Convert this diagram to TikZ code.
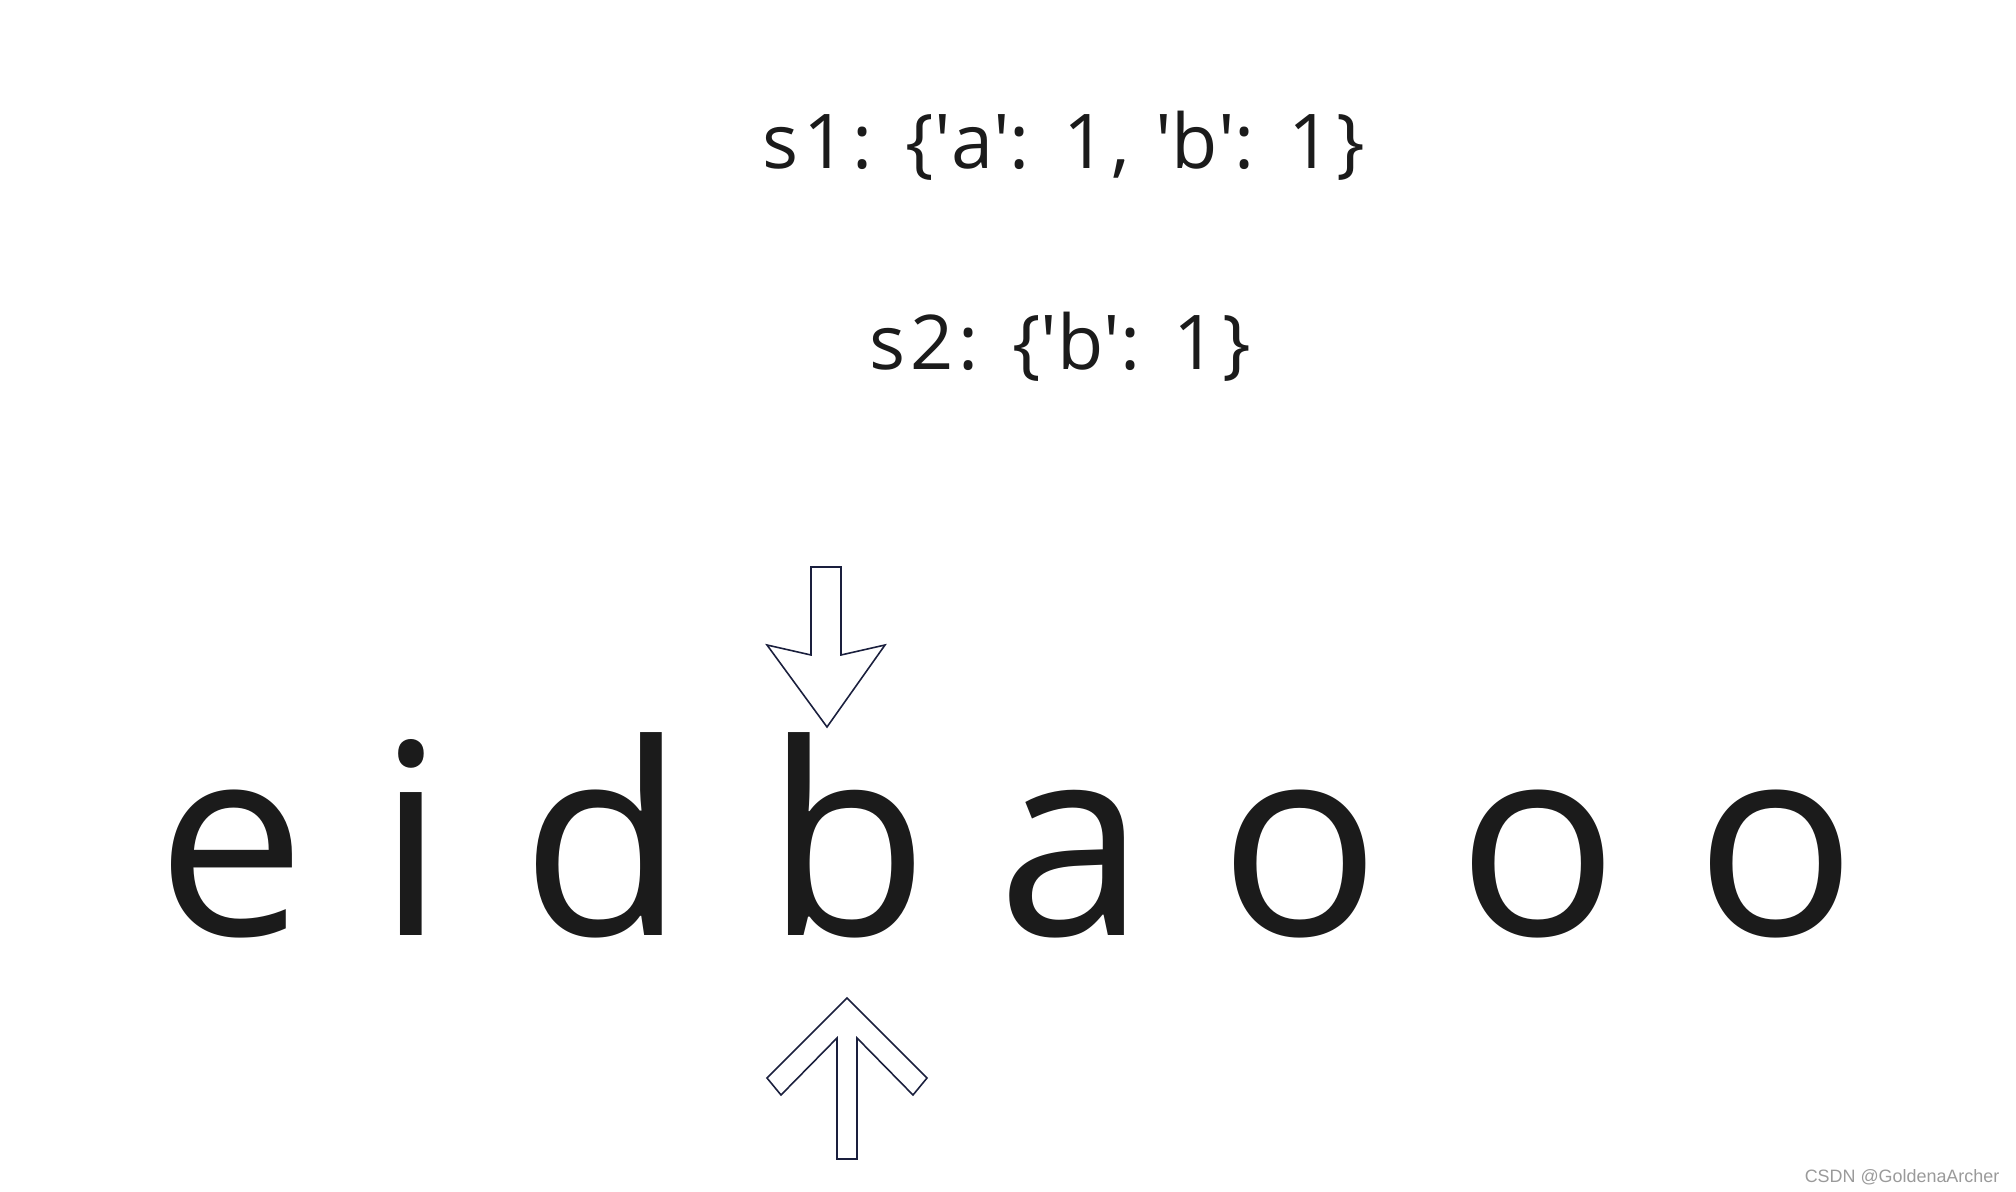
\documentclass[tikz,border=0pt]{standalone}
\usepackage{fontspec}
\setmainfont{Open Sans}
\newfontfamily\dictfont[LetterSpace=7]{Open Sans}
\newfontfamily\wmfont{Liberation Sans}
\usetikzlibrary{positioning}

\definecolor{txt}{HTML}{1B1B1B}
\definecolor{navy}{HTML}{1A1F3D}
\definecolor{wm}{HTML}{9A9A9A}

\newcommand{\q}{\textquotesingle}

\tikzset{
    letter/.style={font=\fontsize{76}{80}\selectfont, text=txt, inner sep=0pt, anchor=base},
    dict/.style={font=\dictfont\fontsize{21.5}{24}\selectfont, text=txt, inner sep=0pt, anchor=base},
    hollow/.style={draw=navy, line width=0.45pt, fill=white, line join=miter}
}

\begin{document}
\begin{tikzpicture}[x=0.1mm, y=-0.1mm]
    \useasboundingbox (0,0) rectangle (2016,1192);

    \node[dict] (s1) at (1064,169) {s1: \{\q a\q: 1, \q b\q: 1\}};
    \node[dict] (s2) at (1060,370) {s2: \{\q b\q: 1\}};

    \node[letter] (l1) at (231,935) {e};
    \node[letter] (l2) at (411,935) {i};
    \node[letter] (l3) at (603,935) {d};
    \node[letter] (l4) at (847,935) {b};
    \node[letter] (l5) at (1072,935) {a};
    \node[letter] (l6) at (1300,935) {o};
    \node[letter] (l7) at (1538,935) {o};
    \node[letter] (l8) at (1776,935) {o};

    % pointer above
    \draw[hollow] (811,567) -- (841,567) -- (841,655) -- (885,645) -- (827,727)
        -- (767,645) -- (811,655) -- cycle;
    % pointer below
    \draw[hollow] (847,998) -- (927,1078) -- (913,1095) -- (857,1038) -- (857,1159)
        -- (837,1159) -- (837,1038) -- (781,1095) -- (767,1078) -- cycle;

    \node[font=\wmfont\fontsize{5.1}{6}\selectfont, text=wm, inner sep=0pt, anchor=base east] (mark) at (2000,1182) {CSDN @GoldenaArcher};
\end{tikzpicture}
\end{document}
